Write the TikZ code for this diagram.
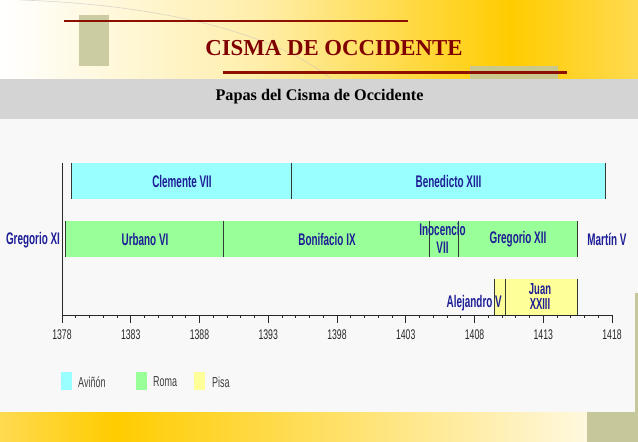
\documentclass[tikz,border=0pt]{standalone}
\usepackage{fontspec}
\setmainfont{Liberation Serif}
\newfontfamily\cond[FakeStretch=0.62]{Liberation Sans}
\newfontfamily\condb[FakeStretch=0.59]{Liberation Sans}
\usetikzlibrary{calc}
\definecolor{avcol}{RGB}{153,255,255}
\definecolor{rocol}{RGB}{153,255,153}
\definecolor{picol}{RGB}{255,255,153}
\definecolor{labblue}{RGB}{30,30,150}
\definecolor{titred}{RGB}{128,0,0}
\definecolor{linered}{RGB}{140,15,0}
\definecolor{khaki}{RGB}{198,200,155}
\definecolor{bandgray}{RGB}{212,212,212}
\definecolor{bgc}{RGB}{248,248,248}
\definecolor{gold}{RGB}{255,204,0}
\definecolor{paleyel}{RGB}{255,238,170}
\definecolor{lightgold}{RGB}{255,218,80}
\definecolor{cream}{RGB}{255,248,222}
\definecolor{divcol}{RGB}{50,60,50}
\definecolor{axcol}{RGB}{40,40,40}
\tikzset{
  bar/.style={rectangle, draw=none, fill=#1, minimum height=36pt, inner sep=0pt,
    font=\condb\bfseries\fontsize{16.8}{18}\selectfont, text=labblue},
  lab/.style={inner sep=0pt, font=\condb\bfseries\fontsize{16.8}{18}\selectfont, text=labblue, align=center},
  divline/.style={draw=divcol, line width=0.9pt},
  axline/.style={draw=axcol, line width=0.9pt},
  yearlab/.style={inner sep=0pt, font=\cond\fontsize{14}{15}\selectfont, text=axcol},
  leglab/.style={inner sep=0pt, anchor=west, font=\cond\fontsize{14.5}{15}\selectfont, text=black!75},
}
\begin{document}
\begin{tikzpicture}[x=1pt,y=-1pt]
\useasboundingbox (0,0) rectangle (638,442);
% header gradient
\shade[left color=white, right color=paleyel] (0,0) rectangle (260,78.5);
\shade[left color=paleyel, right color=gold] (260,0) rectangle (510,78.5);
\shade[left color=gold, right color=lightgold] (510,0) rectangle (638,78.5);
\draw[black!25, opacity=0.6, line width=0.6pt] (20,0) .. controls (150,4) and (270,30) .. (330,78);
% khaki decorations
\fill[khaki, opacity=0.9] (79,15) rectangle (109,66);
\fill[khaki, opacity=0.9] (470,66) rectangle (558,78.5);
% red lines
\draw[linered, line width=2.6pt] (64,21) -- (408,21);
\draw[linered, line width=2.6pt] (223,72.5) -- (567,72.5);
\node[inner sep=0pt, text=titred, font=\bfseries\fontsize{22.8}{24}\selectfont] (title) at (334,48) {CISMA DE OCCIDENTE};
% gray band
\fill[bandgray] (0,78.5) rectangle (638,119);
\node[inner sep=0pt, font=\bfseries\fontsize{16.2}{18}\selectfont] (subtitle) at (319.5,97) {Papas del Cisma de Occidente};
% content background
\fill[bgc] (0,119) rectangle (638,412);
\fill[khaki] (635,293) rectangle (638,412);
% bottom band
\shade[left color=lightgold, right color=gold] (0,412) rectangle (115,442);
\shade[left color=gold, right color=cream] (115,412) rectangle (587,442);
\fill[khaki] (587,412) rectangle (638,442);
% bars: Avignon
\node[bar=avcol, minimum width=220pt] (clem) at (182,181) {Clemente VII};
\node[bar=avcol, minimum width=313pt] (bene) at (448.5,181) {Benedicto XIII};
% Roma
\node[bar=rocol, minimum width=158pt] (urb) at (145,239) {Urbano VI};
\node[bar=rocol, minimum width=206pt] (bon) at (327,239) {Bonifacio IX};
\node[bar=rocol, minimum width=29pt] (ino) at (444.5,239) {};
\node[bar=rocol, minimum width=118pt] (greg) at (518,239) {Gregorio XII};
% Pisa
\node[bar=picol, minimum width=11pt] (alej) at (500.5,297) {};
\node[bar=picol, minimum width=71pt] (juan) at (541.5,297) {};
% dividers
\foreach \n in {clem,bene,urb,bon,ino,greg,alej,juan}
  \draw[divline] (\n.north west) -- (\n.south west);
\draw[divline] (bene.north east) -- (bene.south east);
\draw[divline] (greg.north east) -- (greg.south east);
\draw[divline] (juan.north east) -- (juan.south east);
% labels
\node[lab] (inolab) at (442.5,238) {Inocencio\\VII};
\node[lab, font=\condb\bfseries\fontsize{16}{15}\selectfont] (juanlab) at (540,296) {Juan\\XXIII};
\node[lab, anchor=east] (alejlab) at (502,303) {Alejandro V};
\node[lab] (gregxi) at (33,240) {Gregorio XI};
\node[lab] (martin) at (607,239) {Martín V};
% axes
\coordinate (o) at (62,315);
\coordinate (xend) at (612,315);
\coordinate (ytop) at (62,163);
\draw[axline] (ytop) -- (o) -- (xend);
\foreach \i in {0,...,40}
  \draw[axline, line width=0.7pt] ($(o)+(\i*13.75,0)$) -- ++(0,3);
\foreach \i in {0,...,8}{
  \pgfmathtruncatemacro\yy{1378+5*\i}
  \draw[axline, line width=0.8pt] ($(o)+(\i*68.75,0)$) -- ++(0,8);
  \node[yearlab] (t\i) at ($(o)+(\i*68.75,20)$) {\yy};
}
% legend
\fill[avcol] (61,372) rectangle (72,390);
\node[leglab] (lav) at (78,382) {Aviñón};
\fill[rocol] (136,372) rectangle (147,390);
\node[leglab] (lro) at (153,382) {Roma};
\fill[picol] (194,372) rectangle (205,390);
\node[leglab] (lpi) at (212,382) {Pisa};
\end{tikzpicture}
\end{document}
